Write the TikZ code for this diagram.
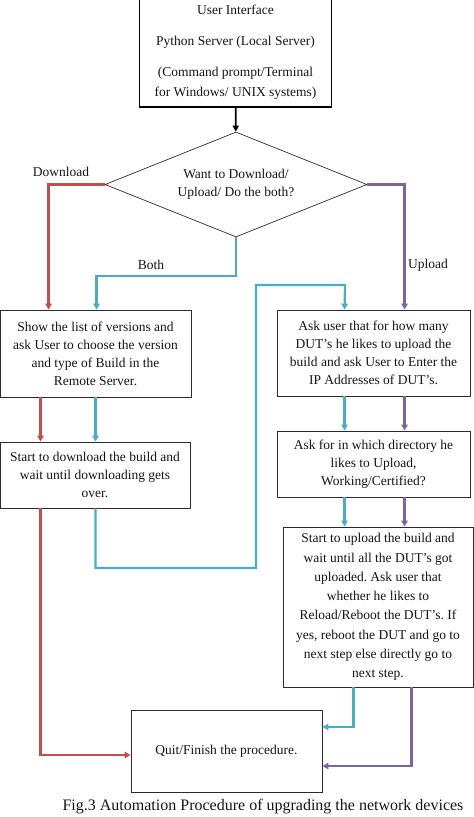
\documentclass[tikz,border=0pt]{standalone}
\usepackage{fontspec}
\setmainfont{Liberation Serif}
\usetikzlibrary{shapes.geometric,arrows.meta}
\definecolor{rojo}{HTML}{C0504D}
\definecolor{celeste}{HTML}{4BACC6}
\definecolor{morado}{HTML}{8064A2}
\definecolor{tinta}{HTML}{141414}
\definecolor{borde}{HTML}{2B2B2B}
\newcommand\letra{\fontsize{13.5}{18}\selectfont}
\frenchspacing
\tikzset{caja/.style={draw=borde,line width=.9pt,align=center,inner sep=0,font=\letra\color{tinta}},
         rombo/.style={diamond,draw=borde,line width=.7pt,align=center,inner sep=0,shape aspect=2.5,font=\letra\color{tinta}},
         etq/.style={font=\letra\color{tinta}},
         fl/.style={->,line width=2.2pt,>={Triangle[length=6pt,width=6.5pt]}}}

\begin{document}
\begin{tikzpicture}[x=1pt,y=-1pt]
  \useasboundingbox (0,0) rectangle (474,817);
  \node[caja,draw=black,line width=1.3pt,minimum width=192pt,minimum height=110pt] (ui) at (235.5,52)
    {User Interface\\[13pt] Python Server (Local Server)\\[13pt] (Command prompt/Terminal\\[2pt] for Windows/ UNIX systems)};
  \node[rombo,minimum width=262pt,minimum height=105pt] (q) at (236,184.5) {Want to Download/\\ Upload/ Do the both?};
  \node[caja,minimum width=191pt,minimum height=87pt] (lst) at (95.5,353.5)
    {Show the list of versions and\\ ask User to choose the version\\ and type of Build in the\\ Remote Server.};
  \node[caja,minimum width=190pt,minimum height=66pt] (dwn) at (95,475)
    {Start to download the build and\\ wait until downloading gets\\ over.};
  \node[caja,minimum width=193pt,minimum height=86pt] (ask) at (373.5,353)
    {Ask user that for how many\\ DUT's he likes to upload the\\ build and ask User to Enter the\\ IP Addresses of DUT's.};
  \node[caja,minimum width=193pt,minimum height=66pt] (dir) at (373.5,464)
    {Ask for in which directory he\\ likes to Upload,\\ Working/Certified?};
  \node[caja,minimum width=190pt,minimum height=160pt,font=\fontsize{13.5}{19.3}\selectfont\color{tinta}] (upl) at (378,607)
    {Start to upload the build and\\ wait until all the DUT's got\\ uploaded. Ask user that\\ whether he likes to\\ Reload/Reboot the DUT's. If\\
     yes, reboot the DUT and go to\\ next step else directly go to\\ next step.};
  \node[caja,minimum width=191pt,minimum height=82pt] (fin) at (226.5,751) {Quit/Finish the procedure.};
  \node[font=\fontsize{16}{19}\selectfont\color{tinta}] (cap) at (263,807) {Fig.3 Automation Procedure of upgrading the network devices};
  \node[etq] (ldw) at (61,172) {Download};
  \node[etq] (lbo) at (151,265) {Both};
  \node[etq] (lup) at (428,265) {Upload};
  \draw[->,line width=1.6pt,>={Triangle[length=6pt,width=6pt]}] (ui) -- (q);
  \draw[fl,rojo] (q.west) -| ([xshift=49pt]lst.north west);
  \draw[fl,morado] (q.east) -| ([xshift=128pt]ask.north west);
  \draw[fl,celeste] (q.south) -- ++(0,39) -| ([xshift=97pt]lst.north west);
  \foreach \x/\c in {41/rojo,96/celeste}
    \draw[fl,\c] ([xshift=\x pt]lst.south west) -- ([xshift=\x pt]dwn.north west);
  \draw[fl,celeste] ([xshift=96pt]dwn.south west) |- (256,568) |- (345,285) -- ([xshift=68pt]ask.north west);
  \draw[fl,rojo] ([xshift=41pt]dwn.south west) |- ([yshift=-4pt]fin.west);
  \foreach \x/\c in {68/celeste,128/morado} {
    \draw[fl,\c] ([xshift=\x pt]ask.south west) -- ([xshift=\x pt]dir.north west);
    \draw[fl,\c] ([xshift=\x pt]dir.south west) -- ([xshift=\x pt]dir.south west |- upl.north);}
  \draw[fl,celeste] ([xshift=71pt]upl.south west) |- ([yshift=24pt]fin.east);
  \draw[fl,morado] ([xshift=129pt]upl.south west) |- ([yshift=-15pt]fin.east);
\end{tikzpicture}
\end{document}
